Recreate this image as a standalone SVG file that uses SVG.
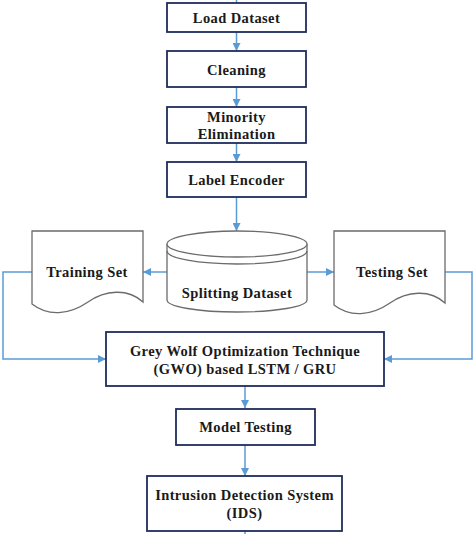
<svg xmlns="http://www.w3.org/2000/svg" width="474" height="534" viewBox="0 0 474 534">
<defs>
<marker id="ah" viewBox="0 0 10 10" refX="10" refY="5" markerWidth="8" markerHeight="8" markerUnits="userSpaceOnUse" orient="auto">
<path d="M0,0 L10,5 L0,10 Z" fill="#5b9bd5"/>
</marker>
<style>
.box{fill:#fff;stroke:#1f2d5c;stroke-width:1.8}
.shape{fill:#fff;stroke:#6b6b6b;stroke-width:1.3}
.t{font-family:'Liberation Serif','Times New Roman',Times,serif;font-weight:700;font-size:14.5px;fill:#1a1a1a;text-anchor:middle;dominant-baseline:central;letter-spacing:0.4px}
.c{fill:none;stroke:#5b9bd5;stroke-width:1.5}
</style>
</defs>
<rect width="474" height="534" fill="#fff"/>
<g id="connectors">
<line class="c" x1="236.5" y1="0" x2="236.5" y2="3"/>
<line class="c" x1="236.5" y1="32" x2="236.5" y2="51" marker-end="url(#ah)"/>
<line class="c" x1="236.5" y1="87" x2="236.5" y2="107" marker-end="url(#ah)"/>
<line class="c" x1="236.5" y1="143" x2="236.5" y2="162" marker-end="url(#ah)"/>
<line class="c" x1="236.5" y1="197" x2="236.5" y2="231" marker-end="url(#ah)"/>
<line class="c" x1="167" y1="272" x2="143" y2="272" marker-end="url(#ah)"/>
<line class="c" x1="307" y1="272" x2="334" y2="272" marker-end="url(#ah)"/>
<polyline class="c" points="32,272 3,272 3,359 106,359" marker-end="url(#ah)"/>
<polyline class="c" points="445,272 472,272 472,359 384,359" marker-end="url(#ah)"/>
<line class="c" x1="245" y1="386" x2="245" y2="408" marker-end="url(#ah)"/>
<line class="c" x1="245" y1="445" x2="245" y2="476" marker-end="url(#ah)"/>
<line class="c" x1="245" y1="531" x2="245" y2="534"/>
</g>
<g id="load-dataset">
<rect class="box" x="167" y="3" width="139" height="29"/>
<text class="t" font-family="Liberation Serif, serif" x="236.5" y="17.5">Load Dataset</text>
</g>
<g id="cleaning">
<rect class="box" x="167" y="51" width="139" height="36"/>
<text class="t" x="236.5" y="70">Cleaning</text>
</g>
<g id="minority-elimination">
<rect class="box" x="167" y="107" width="139" height="36"/>
<text class="t" x="236.5" y="116.5">Minority</text>
<text class="t" x="236.5" y="134">Elimination</text>
</g>
<g id="label-encoder">
<rect class="box" x="167" y="162" width="139" height="35"/>
<text class="t" x="236.5" y="180">Label Encoder</text>
</g>
<g id="splitting-dataset">
<path class="shape" d="M167,244 V300 A70,12 0 0 0 307,300 V244"/>
<ellipse class="shape" cx="237" cy="244" rx="70" ry="13"/>
<path d="M167,251 A70,13 0 0 0 307,251" fill="none" stroke="#6b6b6b" stroke-width="1.3"/>
<text class="t" x="237" y="293">Splitting Dataset</text>
</g>
<g id="training-set">
<path class="shape" d="M32,231 H143 V302 C128,288 105,290 88,302 C72,313 50,318 32,304 Z"/>
<text class="t" x="87" y="272">Training Set</text>
</g>
<g id="testing-set">
<path class="shape" d="M334,231 H445 V303 C430,289 407,291 390,303 C374,314 352,319 334,305 Z"/>
<text class="t" x="392" y="272">Testing Set</text>
</g>
<g id="gwo">
<rect class="box" x="106" y="332" width="278" height="54"/>
<text class="t" x="245" y="351">Grey Wolf Optimization Technique</text>
<text class="t" x="245" y="369">(GWO) based LSTM / GRU</text>
</g>
<g id="model-testing">
<rect class="box" x="176" y="409" width="139" height="36"/>
<text class="t" x="245.5" y="427">Model Testing</text>
</g>
<g id="ids">
<rect class="box" x="147" y="476" width="195" height="55"/>
<text class="t" x="244.5" y="495">Intrusion Detection System</text>
<text class="t" x="244.5" y="513">(IDS)</text>
</g>
</svg>
